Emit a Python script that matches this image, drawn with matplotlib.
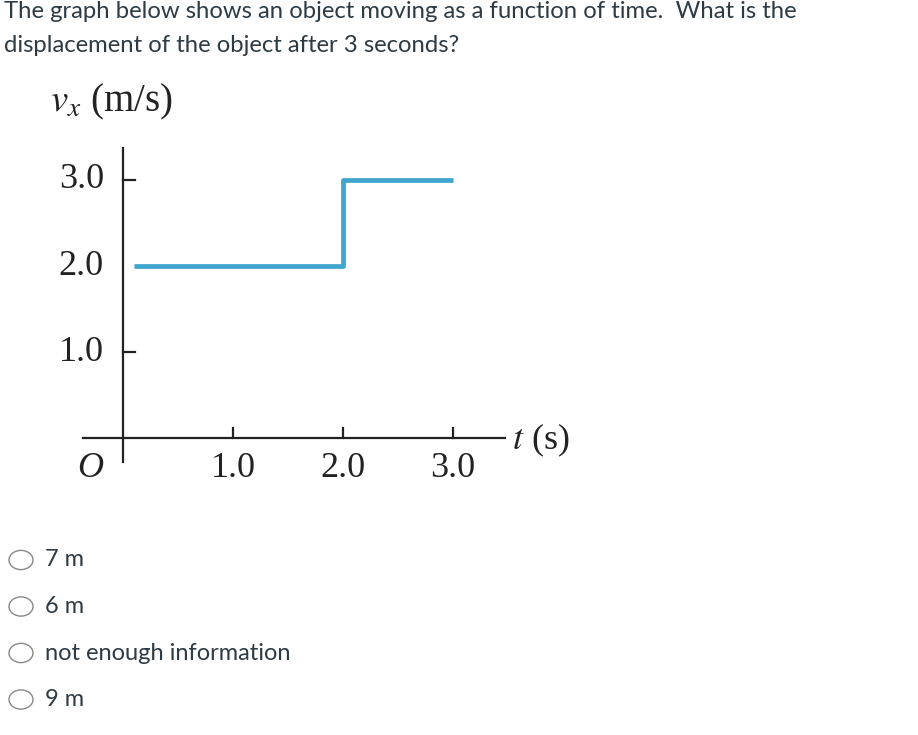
import matplotlib
matplotlib.use("Agg")
import matplotlib.pyplot as plt
from matplotlib.patches import Circle

t_vals = [0.1, 2.0, 2.0, 3.0]
v_vals = [2.0, 2.0, 3.0, 3.0]
y_ticks = [1.0, 2.0, 3.0]
y_tick_labels = ["1.0", "2.0", "3.0"]
x_ticks = [1.0, 2.0, 3.0]
x_tick_labels = ["1.0", "2.0", "3.0"]
question = ["The graph below shows an object moving as a function of time.  What is the",
            "displacement of the object after 3 seconds?"]
options = ["7 m", "6 m", "not enough information", "9 m"]

W, H = 918, 735
fig = plt.figure(figsize=(W/100, H/100), dpi=100)
ax = fig.add_axes([0, 0, 1, 1])
x0, sx, y0, sy = 123, 110, 438, 86
ax.set_xlim((0 - x0)/sx, (W - x0)/sx)
ax.set_ylim((y0 - H)/sy, y0/sy)
ax.axis("off")
def px(x, y):
    return ((x - x0)/sx, (y0 - y)/sy)

serif = "Liberation Serif"
k = "#222222"
fs = 26
ax.plot([0, 0], [px(0,148)[1], px(0,462)[1]], color=k, lw=1.6)
ax.plot([px(83,0)[0], px(505,0)[0]], [0, 0], color=k, lw=1.6)
for v, lab in zip(y_ticks, y_tick_labels):
    if v != 2.0:
        ax.plot([0, 12/sx], [v, v], color=k, lw=1.6)
    ax.text(px(104,0)[0], v, lab, family=serif, fontsize=fs, ha="right", va="center", color=k)
for t, lab in zip(x_ticks, x_tick_labels):
    ax.plot([t, t], [0, 10/sy], color=k, lw=1.6)
    ax.text(t, px(0,468)[1], lab, family=serif, fontsize=fs, ha="center", va="center", color=k)
ax.text(*px(90,468), "O", family=serif, style="italic", fontsize=fs, ha="center", va="center", color=k)
ax.text(*px(512,440), r"$t$ (s)", family=serif, fontsize=fs, ha="left", va="center", color=k,
        math_fontfamily="stix")
ax.text(*px(50,102), r"$v_x$ (m/s)", family=serif, fontsize=28, ha="left", va="center", color=k,
        math_fontfamily="stix")

ax.plot(t_vals, v_vals, color="#3FA4CE", lw=3.4, solid_joinstyle="round", solid_capstyle="butt")

for i, line in enumerate(question):
    fig.text(4/W, 1 - (12 + 33*i)/H, line, family="Lato", fontsize=17.2, ha="left", va="center", color="#2d3b45")
for i, opt in enumerate(options):
    yc = 560 + 46.5*i
    fig.add_artist(Circle((21/W, 1 - yc/H), 12/W, transform=fig.transFigure, fill=False,
                          ec="#888888", lw=1))
    fig.text(45/W, 1 - yc/H, opt, family="Lato", fontsize=17, ha="left", va="center", color="#2d3b45")

fig.savefig("out.png", dpi=100)
